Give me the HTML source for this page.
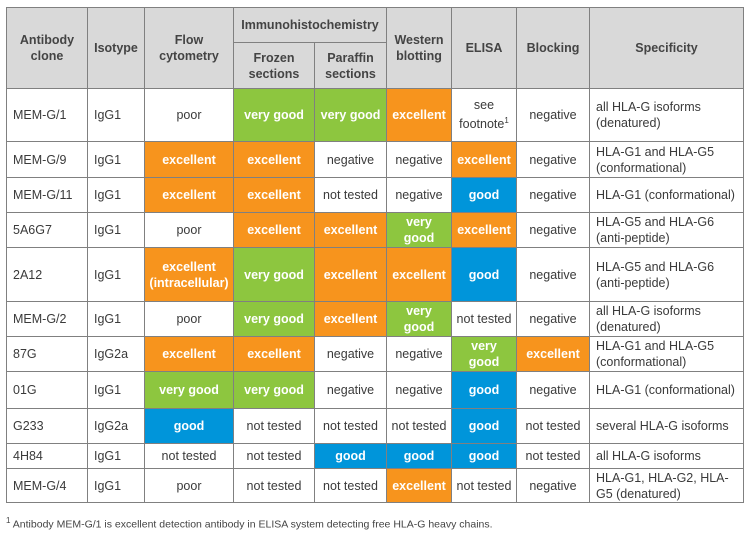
<!DOCTYPE html>
<html><head><meta charset="utf-8"><style>
body{margin:0;width:750px;height:540px;background:#fff;font-family:"Liberation Sans",sans-serif;color:#3a3a3a;overflow:hidden}
table{position:absolute;left:6px;top:7px;border-collapse:collapse;table-layout:fixed;width:737px}
td,th{border:1px solid #808080;font-size:12.5px;padding:0 3px;text-align:center;line-height:16px;overflow:hidden}
th{background:#d9d9d9;font-weight:bold;color:#444}
td.l{text-align:left;padding-left:6px}
.o{background:#f7941d;color:#fff;font-weight:bold}
.g{background:#8dc63f;color:#fff;font-weight:bold}
.b{background:#0095da;color:#fff;font-weight:bold}
sup{font-size:8px}
.fn{position:absolute;left:6px;top:516px;font-size:10.5px;color:#444}
</style></head><body>
<table>
<colgroup><col style="width:81px"><col style="width:57px"><col style="width:89px"><col style="width:81px"><col style="width:72px"><col style="width:65px"><col style="width:65px"><col style="width:73px"><col style="width:154px"></colgroup>
<tr style="height:35px"><th rowspan="2">Antibody clone</th><th rowspan="2">Isotype</th><th rowspan="2">Flow cytometry</th><th colspan="2">Immunohistochemistry</th><th rowspan="2">Western blotting</th><th rowspan="2">ELISA</th><th rowspan="2">Blocking</th><th rowspan="2">Specificity</th></tr>
<tr style="height:46px"><th>Frozen sections</th><th>Paraffin sections</th></tr>
<tr style="height:53px"><td class="l">MEM-G/1</td><td class="l">IgG1</td><td>poor</td><td class="g">very good</td><td class="g">very good</td><td class="o">excellent</td><td>see footnote<sup>1</sup></td><td>negative</td><td class="l">all HLA-G isoforms (denatured)</td></tr>
<tr style="height:36px"><td class="l">MEM-G/9</td><td class="l">IgG1</td><td class="o">excellent</td><td class="o">excellent</td><td>negative</td><td>negative</td><td class="o">excellent</td><td>negative</td><td class="l">HLA-G1 and HLA-G5 (conformational)</td></tr>
<tr style="height:35px"><td class="l">MEM-G/11</td><td class="l">IgG1</td><td class="o">excellent</td><td class="o">excellent</td><td>not tested</td><td>negative</td><td class="b">good</td><td>negative</td><td class="l">HLA-G1 (conformational)</td></tr>
<tr style="height:35px"><td class="l">5A6G7</td><td class="l">IgG1</td><td>poor</td><td class="o">excellent</td><td class="o">excellent</td><td class="g">very good</td><td class="o">excellent</td><td>negative</td><td class="l">HLA-G5 and HLA-G6 (anti-peptide)</td></tr>
<tr style="height:54px"><td class="l">2A12</td><td class="l">IgG1</td><td class="o">excellent (intracellular)</td><td class="g">very good</td><td class="o">excellent</td><td class="o">excellent</td><td class="b">good</td><td>negative</td><td class="l">HLA-G5 and HLA-G6 (anti-peptide)</td></tr>
<tr style="height:35px"><td class="l">MEM-G/2</td><td class="l">IgG1</td><td>poor</td><td class="g">very good</td><td class="o">excellent</td><td class="g">very good</td><td>not tested</td><td>negative</td><td class="l">all HLA-G isoforms (denatured)</td></tr>
<tr style="height:35px"><td class="l">87G</td><td class="l">IgG2a</td><td class="o">excellent</td><td class="o">excellent</td><td>negative</td><td>negative</td><td class="g">very good</td><td class="o">excellent</td><td class="l">HLA-G1 and HLA-G5 (conformational)</td></tr>
<tr style="height:37px"><td class="l">01G</td><td class="l">IgG1</td><td class="g">very good</td><td class="g">very good</td><td>negative</td><td>negative</td><td class="b">good</td><td>negative</td><td class="l">HLA-G1 (conformational)</td></tr>
<tr style="height:35px"><td class="l">G233</td><td class="l">IgG2a</td><td class="b">good</td><td>not tested</td><td>not tested</td><td>not tested</td><td class="b">good</td><td>not tested</td><td class="l">several HLA-G isoforms</td></tr>
<tr style="height:25px"><td class="l">4H84</td><td class="l">IgG1</td><td>not tested</td><td>not tested</td><td class="b">good</td><td class="b">good</td><td class="b">good</td><td>not tested</td><td class="l">all HLA-G isoforms</td></tr>
<tr style="height:34px"><td class="l">MEM-G/4</td><td class="l">IgG1</td><td>poor</td><td>not tested</td><td>not tested</td><td class="o">excellent</td><td>not tested</td><td>negative</td><td class="l">HLA-G1, HLA-G2, HLA-G5 (denatured)</td></tr>
</table>
<div class="fn"><sup>1</sup> Antibody MEM-G/1 is excellent detection antibody in ELISA system detecting free HLA-G heavy chains.</div>
</body></html>
